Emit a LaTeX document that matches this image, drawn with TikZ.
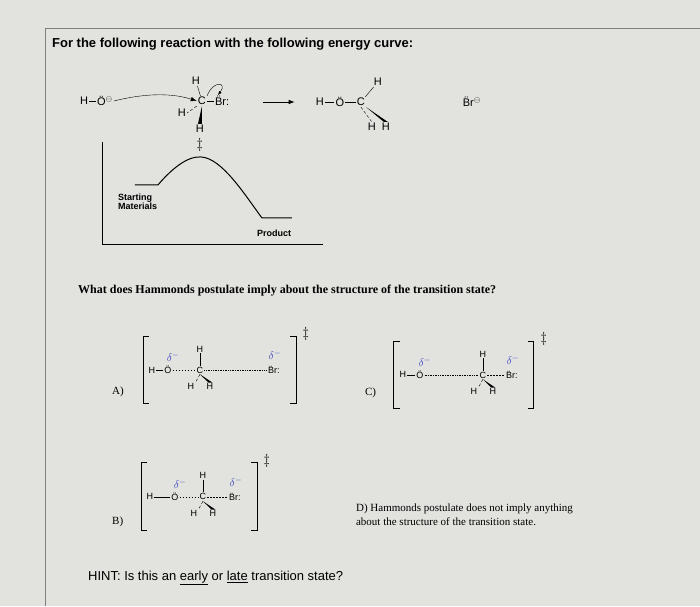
\documentclass[tikz,border=0pt]{standalone}
\usepackage{fontspec}
\setmainfont{Liberation Serif}
\setsansfont{Liberation Sans}
\usetikzlibrary{arrows.meta}
\definecolor{paper}{RGB}{226,226,223}
\definecolor{deltablue}{RGB}{60,70,190}
\newcommand\tstate[8]{%
    \node[atom] (#1H) at (#3,#2) {H};
    \node[atom] (#1O) at (#4,#2) {\"O};
    \node[atom] (#1C) at (#5,#2) {C};
    \node[atom, anchor=west] (#1Br) at (#6-6,#2) {\"Br:};
    \node[atom] (#1Ht) at (#5,#2-21) {H};
    \node[atom] (#1Hl) at (#5-9,#2+17) {H};
    \node[atom] (#1Hr) at (#5+10,#2+17) {H};
    \node[delta] (#1dO) at (#4+5,#2-13) {$\delta^-$};
    \node[delta] (#1dBr) at (#6+2,#2-15) {$\delta^-$};
    \draw (#1H) -- (#1O);
    \draw[#7] (#1O) -- (#1C);
    \draw[#8] (#1C) -- (#1Br);
    \draw (#1C) -- (#1Ht);
    \draw[densely dashed] (#1C.south) -- (#1Hl.north east);
    \fill (#1C.south) -- ([xshift=-1.5pt]#1Hr.north) -- ([xshift=2.5pt]#1Hr.north) -- cycle;
    \draw[line width=0.8pt] (#3-3,#2-34) -- (#3-9,#2-34) -- (#3-9,#2+34) -- (#3-3,#2+34);
    \draw[line width=0.8pt] (#6+17,#2-34) -- (#6+23,#2-34) -- (#6+23,#2+34) -- (#6+17,#2+34);
    \node[dagger] (#1dd) at (#6+33,#2-36) {$\ddagger$};
}
\begin{document}
\begin{tikzpicture}[
    x=1pt, y=-1pt,
    atom/.style={font=\sffamily\fontsize{9}{10}\selectfont, inner sep=1pt},
    bigatom/.style={font=\sffamily\fontsize{11}{12}\selectfont, inner sep=1pt},
    delta/.style={font=\fontsize{11}{11}\selectfont, text=deltablue, inner sep=0pt},
    dagger/.style={font=\fontsize{15}{15}\selectfont, inner sep=0pt},
    label/.style={font=\sffamily\bfseries\fontsize{9}{9.5}\selectfont, align=left, inner sep=0pt, anchor=west},
    serifq/.style={font=\bfseries\fontsize{12}{14}\selectfont, align=left, inner sep=0pt, anchor=west},
    partial/.style={densely dotted, line width=0.7pt},
    half/.style={dash pattern=on 1.5pt off 1.5pt, line width=0.7pt}
    ]
    \fill[paper] (0,0) rectangle (700,606);
    \draw[gray] (45,28) -- (45,606);
    \draw[gray] (45,28) -- (700,28);
    \useasboundingbox (0,0) rectangle (700,606);

    \node[serifq, font=\sffamily\bfseries\fontsize{13}{15}\selectfont] (title) at (52,44) {For the following reaction with the following energy curve:};

    % reaction
    \node[bigatom] (rH) at (84,101) {H};
    \node[bigatom] (rO) at (105,101) {\"O$^{\ominus}$};
    \node[bigatom] (rC) at (202,101) {C};
    \node[bigatom, anchor=west] (rBr) at (214,101) {\"Br:};
    \node[bigatom] (rHt) at (196,81) {H};
    \node[bigatom] (rHl) at (182,113) {H};
    \node[bigatom] (rHb) at (200,129) {H};
    \draw[thick] (rH) -- (rO);
    \draw[thick] (rC) -- (rBr);
    \draw (rC) -- (rHt);
    \draw[densely dashed] (rC.south west) -- (rHl.east);
    \fill (rC.south) -- ([xshift=-2pt]rHb.north) -- ([xshift=2pt]rHb.north) -- cycle;
    \draw[-{Latex[length=6pt]}] (rO.east) .. controls (150,92) and (175,94) .. (rC.west);
    \draw[-{Latex[length=4pt]}] (rC.north east) .. controls (213,80) and (228,82) .. ([xshift=4pt]rBr.north west);
    \node[bigatom] (arrS) at (262,102) {};
    \node[bigatom] (arrE) at (296,102) {};
    \draw[-{Latex[length=6pt]}, thick] (arrS) -- (arrE);
    \node[bigatom] (pH) at (320,102) {H};
    \node[bigatom] (pO) at (340,102) {\"O};
    \node[bigatom] (pC) at (361,102) {C};
    \node[bigatom] (pHt) at (378,82) {H};
    \node[bigatom] (pHl) at (372,127) {H};
    \node[bigatom] (pHr) at (386,127) {H};
    \draw[thick] (pH) -- (pO);
    \draw[thick] (pO) -- (pC);
    \draw (pC) -- (pHt);
    \draw[densely dashed] (pC.south) -- (pHl.north);
    \fill (pC.south east) -- ([xshift=-2pt]pHr.north) -- ([xshift=2pt]pHr.north) -- cycle;
    \node[bigatom] (pBr) at (472,102) {\"Br$^{\ominus}$};

    % energy curve
    \node[dagger] (topdd) at (200,145) {$\ddagger$};
    \draw[line width=1pt] (103,142) -- (103,245) -- (323,245);
    \draw[line width=1pt] (135,185) -- (158,185) .. controls (175,165) and (190,156) .. (201,157)
        .. controls (222,158) and (245,195) .. (262,218) -- (292,218);
    \node[label] (start) at (118,202) {Starting\\Materials};
    \node[label] (prod) at (257,233) {Product};

    \node[serifq] (question) at (78,291) {What does Hammonds postulate imply about the structure of the transition state?};

    % answers
    \node[serifq, font=\fontsize{11}{12}\selectfont] (optA) at (112,392) {A)};
    \tstate{a}{370}{152}{168}{200}{273}{half}{partial}
    \node[serifq, font=\fontsize{11}{12}\selectfont] (optC) at (365,393) {C)};
    \tstate{c}{375}{403}{420}{483}{511}{partial}{half}
    \node[serifq, font=\fontsize{11}{12}\selectfont] (optB) at (112,522) {B)};
    \tstate{b}{497}{150}{175}{203}{234}{half}{half}
    \node[serifq, font=\fontsize{11}{14}\selectfont] (optD) at (356,515) {D) Hammonds postulate does not imply anything\\about the structure of the transition state.};

    \node[serifq, font=\sffamily\fontsize{13}{15}\selectfont] (hint) at (88,578) {HINT: Is this an \underline{early} or \underline{late} transition state?};
\end{tikzpicture}
\end{document}
